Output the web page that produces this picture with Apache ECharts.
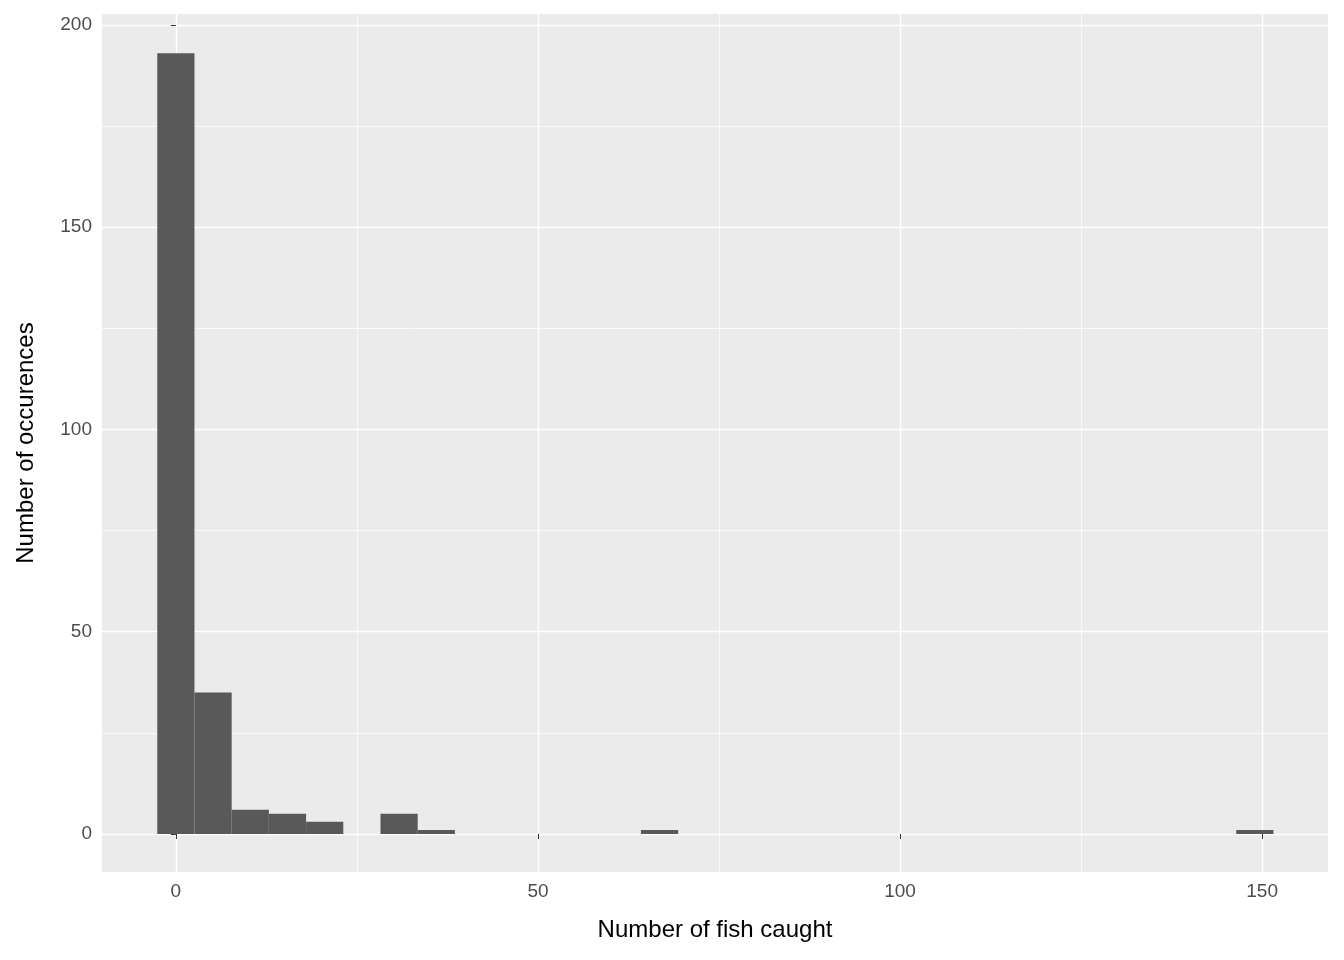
<!DOCTYPE html>
<html>
<head>
<meta charset="utf-8">
<script src="https://cdn.jsdelivr.net/npm/echarts@6/dist/echarts.min.js"></script>
<style>html,body{margin:0;padding:0;background:#fff}#chart{width:1344px;height:960px}</style>
</head>
<body>
<div id="chart"></div>
<script>
// histogram: 30 bins spanning 0..149
let binWidth = 149 / 29;
let counts = [193, 35, 6, 5, 3, 0, 5, 1, 0, 0, 0, 0, 0, 1, 0, 0, 0, 0, 0, 0, 0, 0, 0, 0, 0, 0, 0, 0, 0, 1];
let xTicks = [0, 50, 100, 150];
let xMinor = [25, 75, 125];
let yTicks = [0, 50, 100, 150, 200];
let yMinor = [25, 75, 125, 175];

let chart = echarts.init(document.getElementById('chart'));
let data = counts.map((c, i) => [i * binWidth, c]);
let lineStyle = (w) => ({color: '#fff', width: w, type: 'solid'});
let gridLines = [];
xTicks.forEach(v => gridLines.push({xAxis: v, lineStyle: lineStyle(1.4)}));
xMinor.forEach(v => gridLines.push({xAxis: v, lineStyle: lineStyle(0.7)}));
yTicks.forEach(v => gridLines.push({yAxis: v, lineStyle: lineStyle(1.4)}));
yMinor.forEach(v => gridLines.push({yAxis: v, lineStyle: lineStyle(0.7)}));

let labelStyle = {color: '#4D4D4D', fontSize: 19, fontFamily: 'Arial, Liberation Sans'};
chart.setOption({
    backgroundColor: '#fff',
    grid: {left: 102, right: 16, top: 14, bottom: 88, show: true, backgroundColor: '#EBEBEB', borderWidth: 0},
    xAxis: {
        type: 'value', min: -10.2, max: 159.1,
        name: 'Number of fish caught', nameLocation: 'middle', nameGap: 46,
        nameTextStyle: {color: '#000', fontSize: 24, fontFamily: 'Arial, Liberation Sans'},
        axisLine: {show: false}, splitLine: {show: false},
        axisTick: {show: true, customValues: xTicks, length: 5, lineStyle: {color: '#333'}},
        axisLabel: Object.assign({customValues: xTicks, margin: 10, showMinLabel: true, showMaxLabel: true}, labelStyle)
    },
    yAxis: {
        type: 'value', min: -9.4, max: 202.7,
        name: 'Number of occurences', nameLocation: 'middle', nameGap: 64,
        nameTextStyle: {color: '#000', fontSize: 24, fontFamily: 'Arial, Liberation Sans'},
        axisLine: {show: false}, splitLine: {show: false},
        axisTick: {show: true, customValues: yTicks, length: 5, lineStyle: {color: '#333'}},
        axisLabel: Object.assign({customValues: yTicks, margin: 10}, labelStyle)
    },
    series: [{
        type: 'custom',
        data: data,
        renderItem: function (params, api) {
            let x = api.value(0), c = api.value(1);
            if (!c) return null;
            let p0 = api.coord([x - binWidth / 2, c]);
            let p1 = api.coord([x + binWidth / 2, 0]);
            return {type: 'rect', shape: {x: p0[0], y: p0[1], width: p1[0] - p0[0], height: p1[1] - p0[1]},
                style: {fill: '#595959'}};
        },
        markLine: {silent: true, symbol: 'none', label: {show: false}, data: gridLines, z: 0},
        z: 2
    }]
});
</script>
</body>
</html>
